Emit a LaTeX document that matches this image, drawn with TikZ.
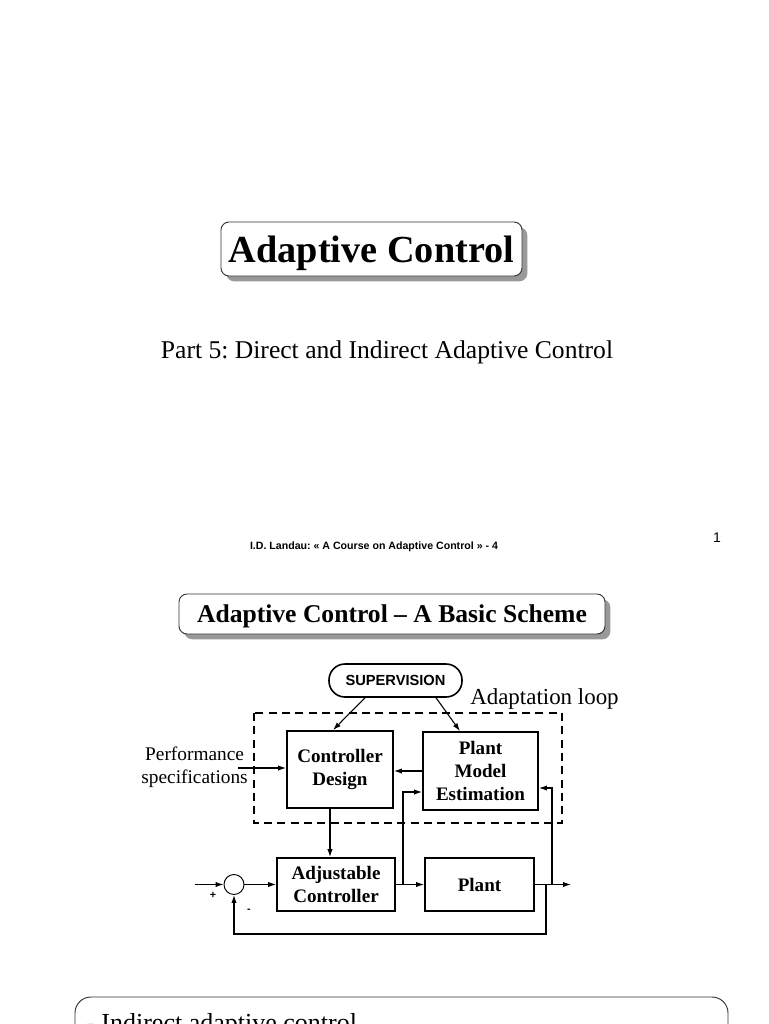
\documentclass[tikz,border=0pt]{standalone}
\usepackage{fontspec}
\setmainfont{Liberation Serif}
\setsansfont{Liberation Sans}
\usetikzlibrary{arrows.meta,shadows}
\frenchspacing

\begin{document}
\begin{tikzpicture}[
		x=0.75pt, y=-0.75pt,
		ttl/.style = {rectangle, rounded corners=6pt, draw=black!80, fill=white, line width=0.7pt, inner sep=0pt,
			text depth=0pt, drop shadow={shadow xshift=4pt, shadow yshift=-4pt, fill=black!40, opacity=1}, font=\bfseries},
		blk/.style = {rectangle, draw, line width=1.4pt, fill=white, inner sep=0pt, align=center,
			font=\fontsize{14.3}{17}\selectfont\bfseries},
		sup/.style = {rectangle, rounded corners=12pt, draw, line width=1.2pt, minimum width=99.75pt,
			minimum height=24.75pt, font=\sffamily\bfseries\fontsize{11}{13}\selectfont},
		sum/.style = {circle, draw, line width=0.7pt, minimum size=15pt, inner sep=0pt},
		txt/.style = {inner sep=0pt, align=center},
		r/.style = {-{Latex[length=6pt,width=4pt]}, line width=0.8pt},
		]
		\useasboundingbox (0,0) rectangle (768,1024);
		\clip (0,0) rectangle (768,1024);

		%Title page
		\node[ttl, minimum width=225.75pt, minimum height=40.5pt, font=\bfseries\fontsize{28.7}{32}\selectfont]
			(title) at (371.5,249) {Adaptive Control};
		\node[txt, font=\fontsize{19.2}{22}\selectfont] (part) at (387,352) {Part 5: Direct and Indirect Adaptive Control};
		\node[txt, font=\sffamily\bfseries\fontsize{7.95}{9}\selectfont] (ref) at (374,547)
			{I.D. Landau: « A Course on Adaptive Control » - 4};
		\node[txt, font=\sffamily\fontsize{10.5}{12}\selectfont] (page) at (717,538) {1};

		%Second slide
		\node[ttl, minimum width=319.5pt, minimum height=30pt, font=\bfseries\fontsize{19.2}{22}\selectfont]
			(scheme) at (392,614) {Adaptive Control – A Basic Scheme};

		%Nodes
		\node[sup]	(sv)	at	(395.5,680.5)	{SUPERVISION};
		\node[txt, font=\fontsize{17.2}{19}\selectfont, anchor=west] (loop) at (470,699) {Adaptation loop};
		\draw[line width=1pt, dash pattern=on 6pt off 4pt] (254,713) rectangle (562,823);
		\node[blk, minimum width=79.5pt, minimum height=57.75pt]	(cd)	at	(340,769.5)	{Controller\\Design};
		\node[blk, minimum width=86.25pt, minimum height=58.5pt]	(pme)	at	(480.5,771)	{Plant\\Model\\Estimation};
		\node[txt, font=\fontsize{14.5}{17.5}\selectfont, anchor=east] (perf) at (248,767) {Performance\\specifications};
		\node[blk, minimum width=88.5pt, minimum height=39.75pt]	(ac)	at	(336,884.5)	{Adjustable\\Controller};
		\node[blk, minimum width=81.75pt, minimum height=39.75pt]	(plant)	at	(479.5,884.5)	{Plant};
		\node[sum]	(sm)	at	(234,884.5)	{};
		\node[txt, font=\sffamily\bfseries\fontsize{8}{9}\selectfont] (plus) at (213,895) {+};
		\node[txt, font=\sffamily\bfseries\fontsize{8}{9}\selectfont] (minus) at (249,911) {-};
		\coordinate (pin)	at (238,768);
		\coordinate (in)	at (195,884.5);
		\coordinate (out)	at (571,884.5);
		\coordinate (j1)	at (403,884.5);
		\coordinate (j2)	at (552,884.5);
		\coordinate (j3)	at (546,884.5);

		%Lines
		\draw[r]	([xshift=-22.9pt]sv.south)	--	([xshift=-5.25pt]cd.north);
		\draw[r]	([xshift=30.4pt]sv.south)	--	([xshift=-15.4pt]pme.north);
		\draw[r]	(pin)	--	(pin -| cd.west);
		\draw[r]	(pme.west)	--	(pme.west -| cd.east);
		\draw[r]	([xshift=-7.5pt]cd.south)	--	([xshift=-7.5pt]cd.south |- ac.north);
		\draw[r]	(in)	--	(sm.west);
		\draw[r]	(sm.east)	--	(ac.west);
		\draw[r]	(ac.east)	--	(plant.west);
		\draw[r]	(j1)	|-	([yshift=-15.75pt]pme.west);
		\draw[r]	(plant.east)	--	(out);
		\draw[r]	(j2)	|-	([yshift=-12.75pt]pme.east);
		\draw[r]	(j3)	--	(546,934)	-|	(sm.south);

		%Third slide
		\draw[line width=0.7pt, draw=black!80, rounded corners=12pt] (75,1060) -- (75,997) -- (728,997) -- (728,1060);
		\node[txt, anchor=base west, font=\fontsize{19.5}{22}\selectfont] (ind) at (86,1031) {- Indirect adaptive control};
	\end{tikzpicture}
\end{document}
